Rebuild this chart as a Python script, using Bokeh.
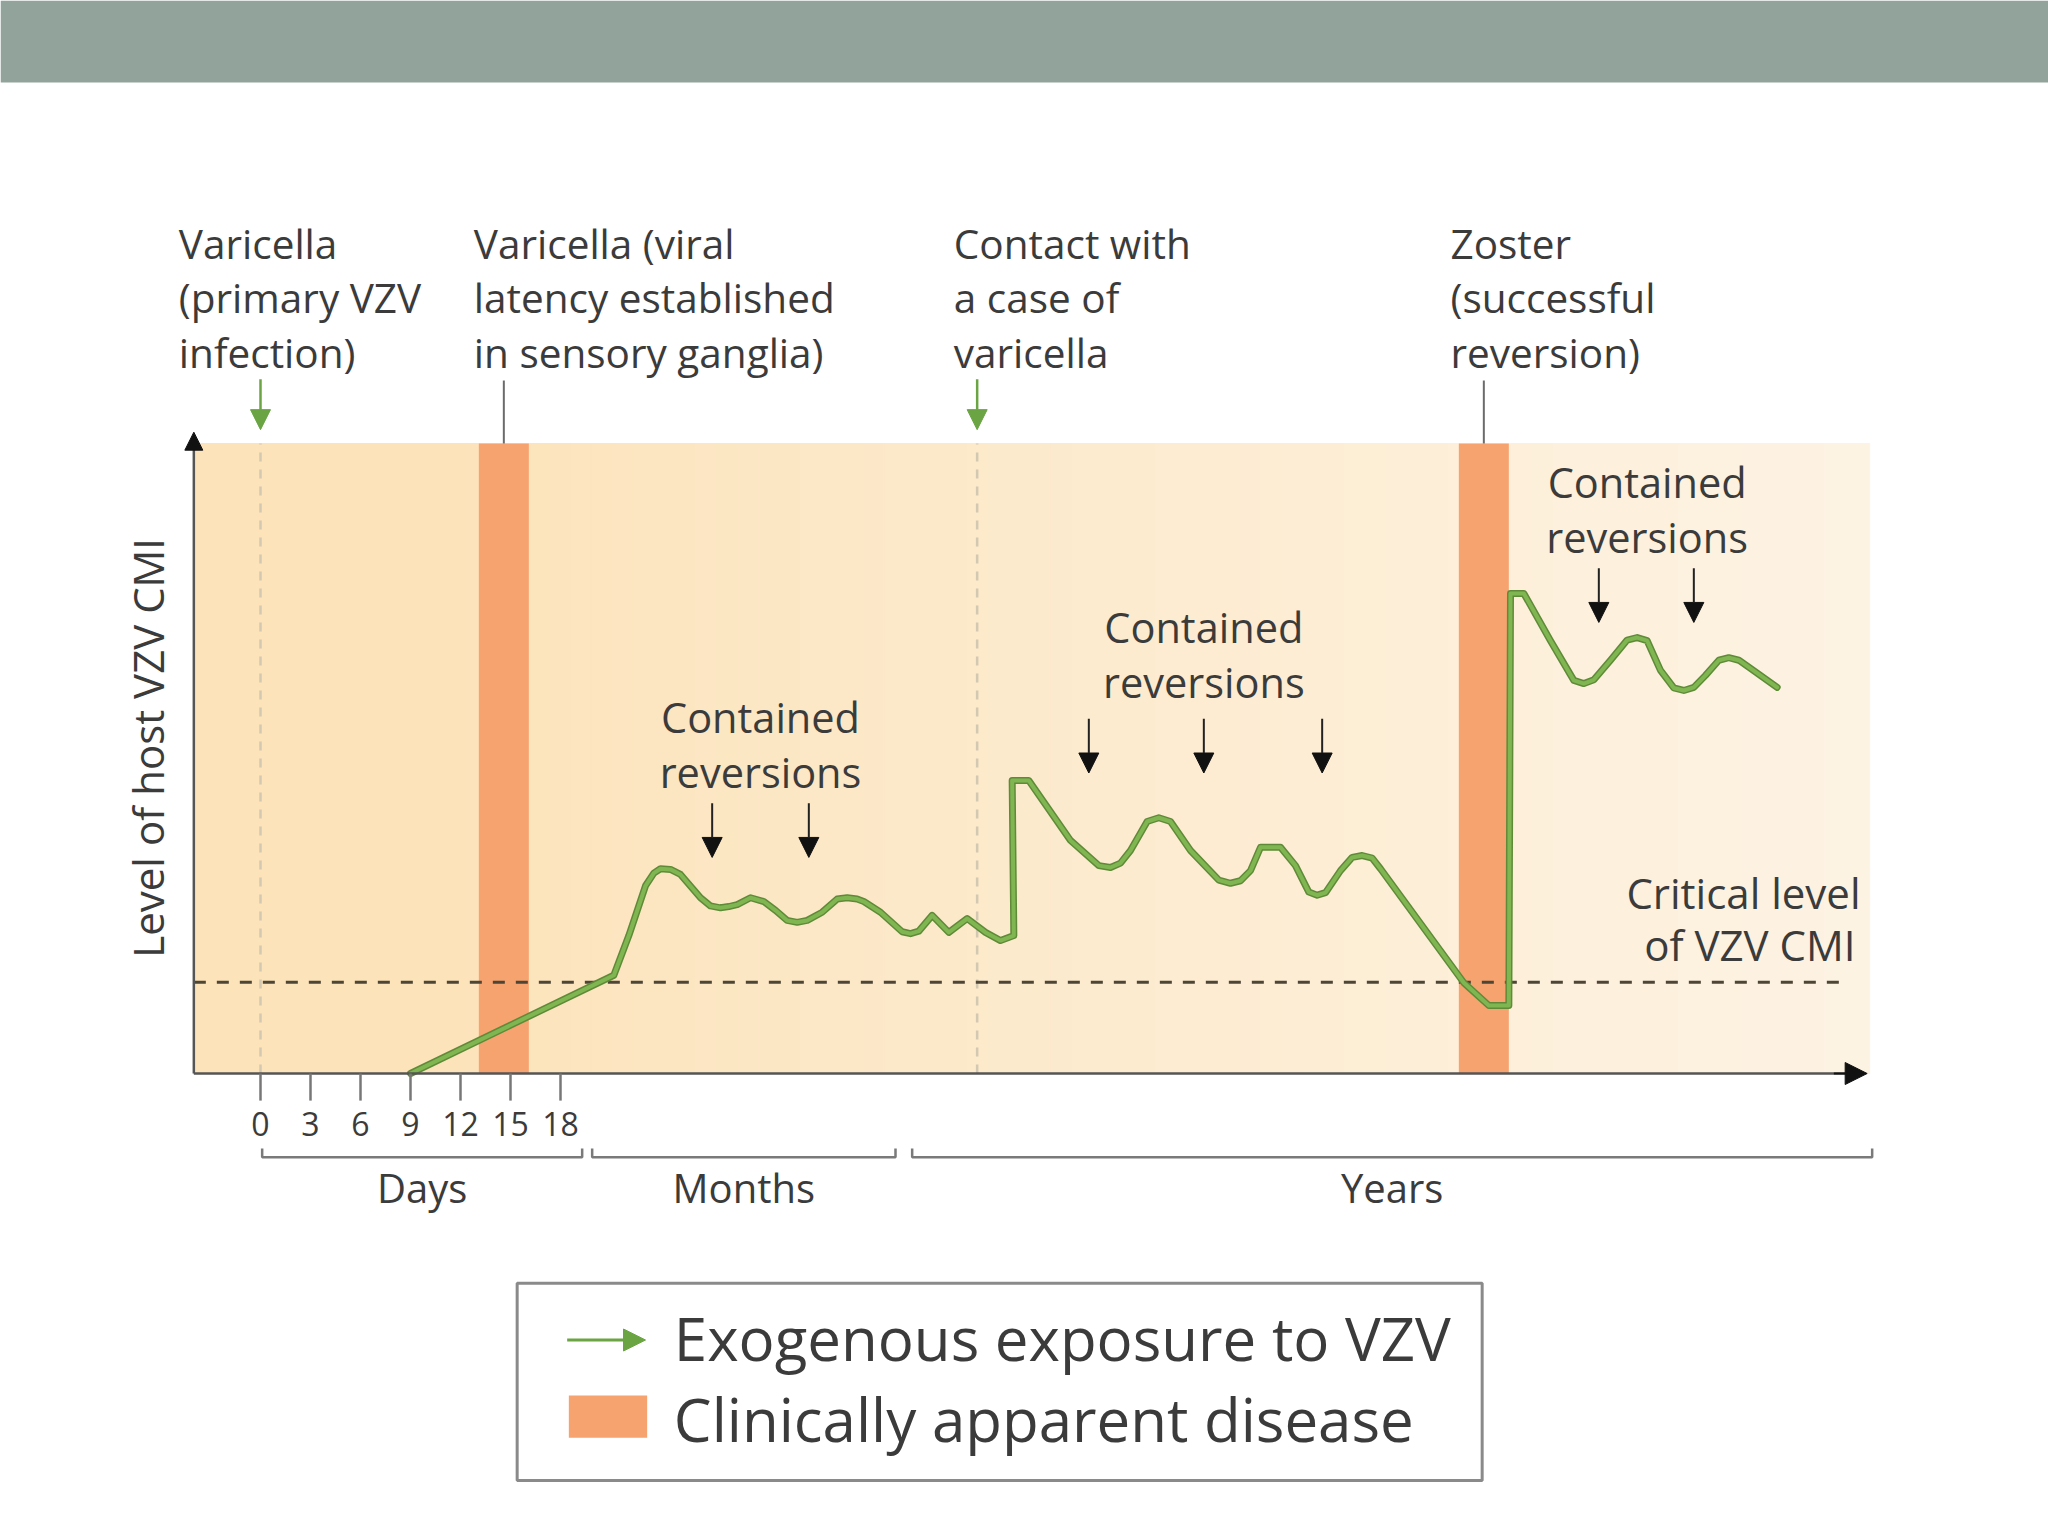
from bokeh.plotting import figure
from bokeh.models import Range1d, Arrow, NormalHead, ColumnDataSource
from bokeh.core.properties import value
from bokeh.embed import file_html
from bokeh.resources import INLINE

# ---------------------------------------------------------------
# Schematic timeline: one x unit = one day on the "Days" scale,
# the same unit is continued (compressed) through months and years.
# y = level of host VZV cell-mediated immunity (arbitrary units).
# ---------------------------------------------------------------
day_ticks = [0, 3, 6, 9, 12, 15, 18]
critical_level = 14.5

cmi_time = [9.0, 21.2, 22.1, 23.1, 23.6, 24.0, 24.6, 25.2, 26.4, 27.0, 27.6,
            28.1, 28.6, 29.4, 30.2, 30.9, 31.6, 32.2, 32.8, 33.7, 34.6, 35.2,
            35.8, 36.2, 37.2, 38.5, 39.0, 39.5, 40.3, 41.3, 42.4, 43.5, 44.4,
            45.2, 45.1, 46.1, 48.6, 50.3, 51.0, 51.6, 52.2, 53.2, 53.9, 54.6,
            55.8, 57.5, 58.2, 58.8, 59.4, 60.0, 61.2, 62.1, 62.9, 63.4, 63.9,
            64.8, 65.5, 66.1, 66.7, 67.2, 72.2, 73.7, 74.9, 75.0, 75.8, 77.4,
            78.8, 79.4, 80.0, 81.0, 82.0, 82.6, 83.2, 84.0, 84.8, 85.4, 86.0,
            86.7, 87.5, 88.1, 88.7, 89.4, 91.0]
cmi_level = [0.0, 15.6, 21.9, 29.8, 31.8, 32.5, 32.4, 31.6, 27.9, 26.6, 26.3,
             26.5, 26.8, 27.9, 27.3, 25.9, 24.3, 24.0, 24.3, 25.6, 27.7, 27.9,
             27.7, 27.3, 25.6, 22.5, 22.2, 22.6, 25.1, 22.4, 24.6, 22.4, 21.1,
             21.9, 46.5, 46.5, 37.0, 33.0, 32.7, 33.4, 35.4, 40.0, 40.6, 40.0,
             35.4, 30.7, 30.2, 30.6, 32.2, 35.9, 35.9, 33.0, 28.8, 28.3, 28.7,
             32.2, 34.3, 34.6, 34.2, 32.5, 14.4, 10.8, 10.8, 76.2, 76.2, 68.7,
             62.4, 61.9, 62.5, 65.6, 68.8, 69.2, 68.7, 64.0, 61.2, 60.8, 61.3,
             63.2, 65.6, 66.0, 65.6, 64.3, 61.3]

# Episodes of clinically apparent disease (varicella, zoster)
disease_start = [13.1, 71.9]
disease_end = [16.1, 74.9]

# Exogenous exposures to VZV (primary infection, contact with varicella)
exposure_time = [0.0, 43.0]

# Contained reversions, grouped by the period they belong to
reversion_time = [[27.1, 32.9], [49.7, 56.6, 63.7], [80.3, 86.0]]
reversion_top = [42.9, 56.3, 80.2]

event_labels = [
    ["Varicella", "(primary VZV", "infection)"],
    ["Varicella (viral", "latency established", "in sensory ganglia)"],
    ["Contact with", "a case of", "varicella"],
    ["Zoster", "(successful", "reversion)"],
]
period_labels = ["Days", "Months", "Years"]
period_start = [0.1, 19.9, 39.1]
period_end = [19.3, 38.1, 96.7]

legend_labels = ["Exogenous exposure to VZV", "Clinically apparent disease"]

# ---------------------------------------------------------------
FONT = value("Open Sans")
TEXT = "#3b3b3b"
GREEN = "#80b652"
GREEN_EDGE = "#5f8a38"
ORANGE = "#f6a36f"

X0, X1 = -15.6, 107.28
Y0, Y1 = -73.49, 170.32
AXIS_X = -4.0
TOP = 100.0
RIGHT = 96.4

p = figure(width=2048, height=1536, x_range=Range1d(X0, X1), y_range=Range1d(Y0, Y1),
           output_backend="svg", toolbar_location=None, min_border=0)
p.axis.visible = False
p.grid.visible = False
p.outline_line_color = None
p.background_fill_color = "white"
p.border_fill_color = "white"

# header band
p.quad(left=X0, right=X1, bottom=157.3, top=Y1, fill_color="#91a39a", line_color=None)

# shaded panel, warmer on the left and fading to the right
n = 80
c0 = (252, 227, 186)
c1 = (253, 243, 228)
lefts, rights, cols = [], [], []
for i in range(n):
    t0 = i / n
    t1 = (i + 1) / n
    lefts.append(AXIS_X + (RIGHT - AXIS_X) * t0)
    rights.append(AXIS_X + (RIGHT - AXIS_X) * t1 + 0.15)
    f = min(1.0, max(0.0, (t0 - 0.15) / 0.85)) ** 0.9
    c = tuple(int(round(a + (b - a) * f)) for a, b in zip(c0, c1))
    cols.append("#%02x%02x%02x" % c)
p.quad(left=lefts, right=rights, bottom=0, top=TOP, fill_color=cols,
       line_color=cols, line_width=1)

# disease episodes
p.quad(left=disease_start, right=disease_end, bottom=0, top=TOP,
       fill_color=ORANGE, line_color=None)
# pointers from the labels to the episodes
mid = [(a + b) / 2 for a, b in zip(disease_start, disease_end)]
p.segment(x0=mid, y0=[TOP] * 2, x1=mid, y1=[110.0] * 2, line_color="#6b6b6b", line_width=2)

# exposure guides
p.segment(x0=exposure_time, y0=[0] * 2, x1=exposure_time, y1=[TOP] * 2,
          line_color="#d3c8b2", line_width=2.5, line_dash="9 8")

# critical level
p.line([AXIS_X, RIGHT - 1.5], [critical_level] * 2, line_color="#4d4535",
       line_width=3, line_dash="12 11")

# CMI curve
p.line(cmi_time, cmi_level, line_color=GREEN_EDGE, line_width=7, line_join="round", line_cap="round")
p.line(cmi_time, cmi_level, line_color=GREEN, line_width=4, line_join="round", line_cap="round")

# axes
p.line([AXIS_X, AXIS_X], [0, 100.5], line_color="#555555", line_width=2.5)
p.line([AXIS_X, RIGHT - 1.0], [0, 0], line_color="#555555", line_width=2.5)
p.add_layout(Arrow(x_start=AXIS_X, y_start=99.0, x_end=AXIS_X, y_end=101.8,
                   line_color="#111111", line_width=2,
                   end=NormalHead(size=18, fill_color="#111111", line_color="#111111")))
p.add_layout(Arrow(x_start=RIGHT - 2.0, y_start=0, x_end=RIGHT, y_end=0,
                   line_color="#111111", line_width=2,
                   end=NormalHead(size=22, fill_color="#111111", line_color="#111111")))

# day ticks
p.segment(x0=day_ticks, y0=[0] * len(day_ticks), x1=day_ticks, y1=[-4.3] * len(day_ticks),
          line_color="#777777", line_width=2.5)
p.text(x=day_ticks, y=[-8.0] * len(day_ticks), text=[str(d) for d in day_ticks],
       text_font=FONT, text_font_size="32px", text_color=TEXT,
       text_align="center", text_baseline="alphabetic")

# period brackets
label_x = [9.7, 29.0, 67.9]
for s, e, lab, lx in zip(period_start, period_end, period_labels, label_x):
    p.line([s, s, e, e], [-11.9, -13.3, -13.3, -11.9], line_color="#7a7a7a", line_width=2.5)
    p.text(x=[lx], y=[-18.1], text=[lab],
           text_font=FONT, text_font_size="40px", text_color=TEXT,
           text_align="center", text_baseline="alphabetic")

# y-axis title
p.text(x=[-6.8], y=[51.7], text=["Level of host VZV CMI"], angle=1.5708,
       text_font=FONT, text_font_size="42px", text_color=TEXT,
       text_align="center", text_baseline="alphabetic")

# event labels above the panel
label_left = [-4.9, 12.8, 41.6, 71.4]
for xl, lines in zip(label_left, event_labels):
    p.text(x=[xl] * 3, y=[131.8, 123.1, 114.4], text=lines,
           text_font=FONT, text_font_size="40.5px", text_color=TEXT,
           text_align="left", text_baseline="alphabetic")

# exposure arrows
ex_src = ColumnDataSource(dict(x=exposure_time, y0=[110.2] * 2, y1=[102.2] * 2))
p.add_layout(Arrow(source=ex_src, x_start="x", y_start="y0", x_end="x", y_end="y1",
                   line_color="#6aa443", line_width=2.5,
                   end=NormalHead(size=20, fill_color="#6aa443", line_color="#6aa443")))

# contained reversions
label_centre = [30.0, 56.6, 83.2]
label_base = [56.6, 70.9, 93.9]
for xs, top, cx, yb in zip(reversion_time, reversion_top, label_centre, label_base):
    src = ColumnDataSource(dict(x=xs, y0=[top] * len(xs), y1=[top - 8.6] * len(xs)))
    p.add_layout(Arrow(source=src, x_start="x", y_start="y0", x_end="x", y_end="y1",
                       line_color="#222222", line_width=2,
                       end=NormalHead(size=20, fill_color="#111111", line_color="#111111")))
    p.text(x=[cx, cx], y=[yb, yb - 8.7], text=["Contained", "reversions"],
           text_font=FONT, text_font_size="41.5px", text_color=TEXT,
           text_align="center", text_baseline="alphabetic")

# critical-level caption
p.text(x=[96.0, 95.7], y=[28.8, 20.4], text=["Critical level", "of VZV CMI"],
       text_font=FONT, text_font_size="42px", text_color=TEXT,
       text_align="right", text_baseline="alphabetic")

# legend box
p.quad(left=15.4, right=73.3, bottom=-64.6, top=-33.3, fill_color="white",
       line_color="#8a8a8a", line_width=3)
p.add_layout(Arrow(x_start=18.4, y_start=-42.3, x_end=23.1, y_end=-42.3,
                   line_color="#6aa443", line_width=3,
                   end=NormalHead(size=22, fill_color="#6aa443", line_color="#6aa443")))
p.quad(left=18.5, right=23.2, bottom=-57.8, top=-51.1, fill_color=ORANGE, line_color=None)
p.text(x=[24.8, 24.8], y=[-42.0, -54.9], text=legend_labels,
       text_font=FONT, text_font_size="60px", text_color=TEXT,
       text_align="left", text_baseline="alphabetic")

open("out.html", "w").write(file_html(p, INLINE))
